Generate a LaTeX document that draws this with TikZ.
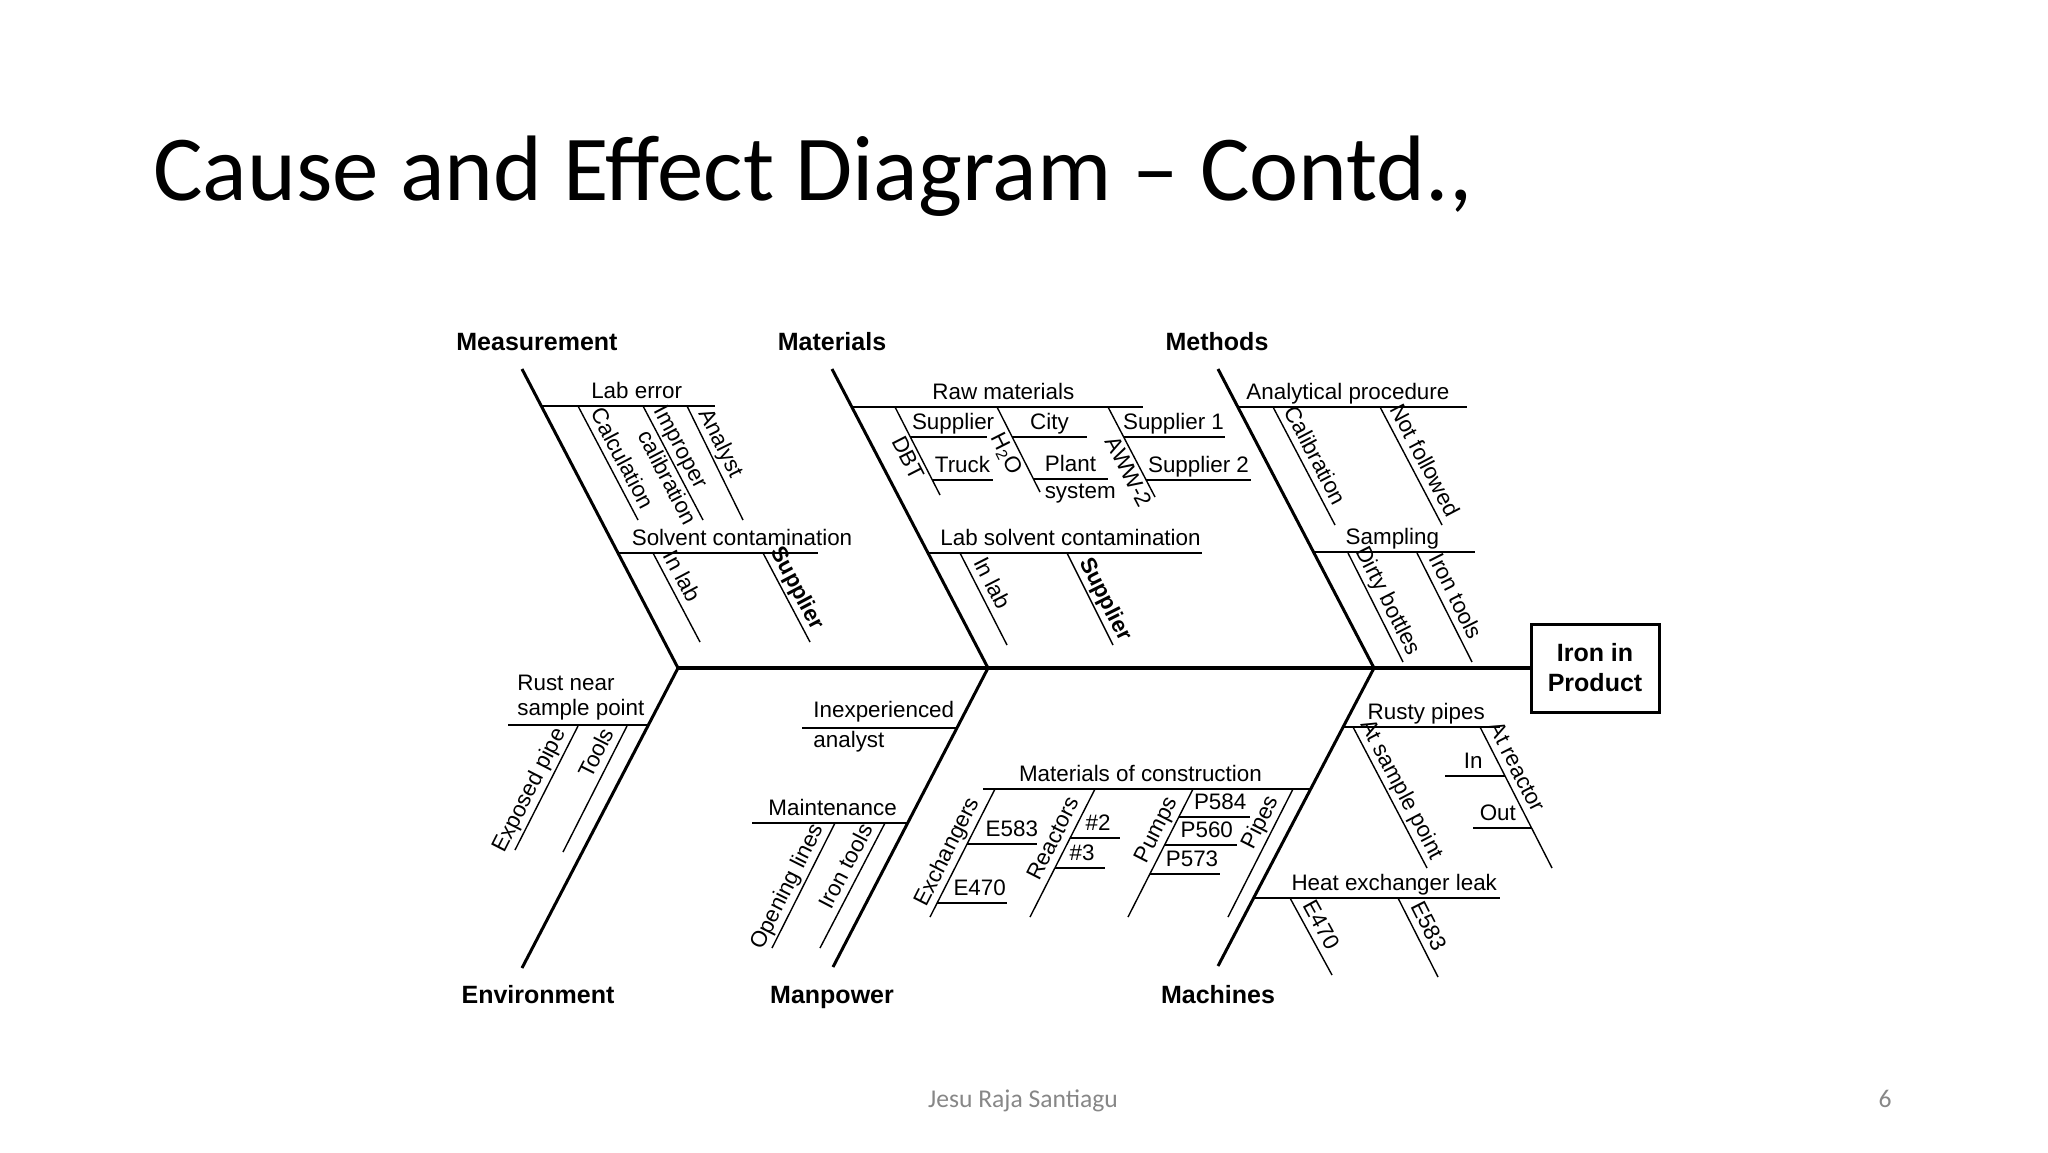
\documentclass[tikz,border=0pt]{standalone}
\usepackage{fontspec}
\setmainfont{Liberation Sans}
\newfontfamily\titlefont{Carlito}
\begin{document}
\begin{tikzpicture}[x=0.5pt,y=-0.5pt,
  spine/.style={line width=2pt},
  bone/.style={line width=1.5pt},
  branch/.style={line width=1pt},
  twig/.style={line width=0.7pt},
  lbl/.style={font=\fontsize{11.2}{13}\selectfont, inner sep=1.2pt, text height=8pt, text depth=2.2pt},
  lblb/.style={lbl, font=\bfseries\fontsize{11.2}{13}\selectfont},
  free/.style={font=\fontsize{11.2}{13}\selectfont, inner sep=0pt, anchor=base west},
  cat/.style={font=\bfseries\fontsize{12.5}{15}\selectfont, inner sep=0pt, anchor=base},
  effect/.style={draw, line width=1.5pt, font=\bfseries\fontsize{12.5}{15}\selectfont, align=center, minimum width=64pt, minimum height=44pt, inner sep=2pt},
]
\fill[white] (0,0) rectangle (2048,1152);
\useasboundingbox (0,0) rectangle (2048,1152);

% title and footer
\node[anchor=base west, inner sep=0pt, font=\titlefont\fontsize{46.5}{50}\selectfont] (title) at (153,200) {Cause and Effect Diagram – Contd.,};
\node[anchor=base, inner sep=0pt, text=black!47, font=\titlefont\fontsize{12.8}{15}\selectfont] (foot) at (1023,1107) {Jesu Raja Santiagu};
\node[anchor=base east, inner sep=0pt, text=black!47, font=\titlefont\fontsize{12.8}{15}\selectfont] (pnum) at (1892,1107) {6};

% skeleton
\coordinate (T1) at (522,369); \coordinate (J1) at (678,668); \coordinate (B1) at (522,968);
\coordinate (T2) at (832,369); \coordinate (J2) at (988,668); \coordinate (B2) at (833,967);
\coordinate (T3) at (1218,369); \coordinate (J3) at (1374,668); \coordinate (B3) at (1218,966);
\node[effect] (eff) at (1595,668) {Iron in\\Product};
\draw[spine] (J1) -- (eff.west);
\draw[bone] (T1) -- (J1) -- (B1);
\draw[bone] (T2) -- (J2) -- (B2);
\draw[bone] (T3) -- (J3) -- (B3);

\node[cat] (cMeas) at (537,350) {Measurement};
\node[cat] (cMat) at (832,350) {Materials};
\node[cat] (cMeth) at (1217,350) {Methods};
\node[cat] (cEnv) at (538,1003) {Environment};
\node[cat] (cMan) at (832,1003) {Manpower};
\node[cat] (cMach) at (1218,1003) {Machines};

% ---------- Measurement
\coordinate (le1) at (541,406); \coordinate (le2) at (715,406);
\draw[branch] (le1) -- node[lbl,above,pos=.55] (lel) {Lab error} (le2);
\coordinate (ca1) at (578,406); \coordinate (ca2) at (638,520);
\draw[twig] (ca1) -- node[lbl,sloped,above,pos=.52] (cal) {Calculation} (ca2);
\coordinate (ic1) at (643,406); \coordinate (ic2) at (703,520);
\draw[twig] (ic1) -- node[lbl,sloped,above,pos=.42] (icl1) {Improper} node[lbl,sloped,below,pos=.58] (icl2) {calibration} (ic2);
\coordinate (an1) at (687,406); \coordinate (an2) at (743,520);
\draw[twig] (an1) -- node[lbl,sloped,above,pos=.38] (anl) {Analyst} (an2);
\coordinate (sc1) at (618,553); \coordinate (sc2) at (818,553);
\draw[branch] (sc1) -- node[lbl,above,pos=.62] (scl) {Solvent contamination} (sc2);
\coordinate (il1) at (653,553); \coordinate (il2) at (700,642);
\draw[twig] (il1) -- node[lbl,sloped,above,pos=.34] (ill) {In lab} (il2);
\coordinate (su1) at (763,553); \coordinate (su2) at (810,642);
\draw[twig] (su1) -- node[lblb,sloped,above,pos=.47] (sul) {Supplier} (su2);

% ---------- Materials
\coordinate (rm1) at (852,407); \coordinate (rm2) at (1143,407);
\draw[branch] (rm1) -- node[lbl,above,pos=.52] (rml) {Raw materials} (rm2);
\coordinate (db1) at (895,407); \coordinate (db2) at (940,495);
\draw[twig] (db1) -- node[lbl,sloped,below,pos=.52] (dbl) {DBT} (db2);
\coordinate (sp1) at (910,437); \coordinate (sp2) at (987,437);
\draw[twig] (sp1) -- node[lbl,above,pos=.56] (spl) {Supplier} (sp2);
\coordinate (tr1) at (932,480); \coordinate (tr2) at (993,480);
\draw[twig] (tr1) -- node[lbl,above,pos=.5] (trl) {Truck} (tr2);
\coordinate (h1) at (997,407); \coordinate (h2) at (1040,492);
\draw[twig] (h1) -- node[lbl,sloped,below,pos=.48] (hl) {H\textsubscript{2}O} (h2);
\coordinate (ci1) at (1012,437); \coordinate (ci2) at (1087,437);
\draw[twig] (ci1) -- node[lbl,above,pos=.5] (cil) {City} (ci2);
\coordinate (pl1) at (1033,479); \coordinate (pl2) at (1108,479);
\draw[twig] (pl1) -- node[lbl,above,pos=.5] (pll) {Plant} node[lbl,below,pos=.63] (plsl) {system} (pl2);
\coordinate (aw1) at (1108,407); \coordinate (aw2) at (1155,497);
\draw[twig] (aw1) -- node[lbl,sloped,below,pos=.66] (awl) {AWW-2} (aw2);
\coordinate (s11) at (1124,437); \coordinate (s12) at (1225,437);
\draw[twig] (s11) -- node[lbl,above,pos=.49] (s1l) {Supplier 1} (s12);
\coordinate (s21) at (1146,480); \coordinate (s22) at (1251,480);
\draw[twig] (s21) -- node[lbl,above,pos=.5] (s2l) {Supplier 2} (s22);
\coordinate (ls1) at (928,553); \coordinate (ls2) at (1202,553);
\draw[branch] (ls1) -- node[lbl,above,pos=.52] (lsl) {Lab solvent contamination} (ls2);
\coordinate (il3) at (960,553); \coordinate (il4) at (1007,645);
\draw[twig] (il3) -- node[lbl,sloped,above,pos=.4] (il3l) {In lab} (il4);
\coordinate (su3) at (1067,553); \coordinate (su4) at (1113,645);
\draw[twig] (su3) -- node[lblb,sloped,above,pos=.57] (su3l) {Supplier} (su4);

% ---------- Methods
\coordinate (ap1) at (1238,407); \coordinate (ap2) at (1467,407);
\draw[branch] (ap1) -- node[lbl,above,pos=.48] (apl) {Analytical procedure} (ap2);
\coordinate (cb1) at (1273,407); \coordinate (cb2) at (1335,525);
\draw[twig] (cb1) -- node[lbl,sloped,above,pos=.47] (cbl) {Calibration} (cb2);
\coordinate (nf1) at (1380,407); \coordinate (nf2) at (1442,525);
\draw[twig] (nf1) -- node[lbl,sloped,above,pos=.51] (nfl) {Not followed} (nf2);
\coordinate (sa1) at (1313,552); \coordinate (sa2) at (1475,552);
\draw[branch] (sa1) -- node[lbl,above,pos=.49] (sal) {Sampling} (sa2);
\coordinate (dt1) at (1348,553); \coordinate (dt2) at (1403,662);
\draw[twig] (dt1) -- node[lbl,sloped,above,pos=.5] (dtl) {Dirty bottles} (dt2);
\coordinate (it1) at (1417,553); \coordinate (it2) at (1472,662);
\draw[twig] (it1) -- node[lbl,sloped,above,pos=.46] (itl) {Iron tools} (it2);

% ---------- Environment
\coordinate (rn1) at (508,725); \coordinate (rn2) at (648,725);
\draw[branch] (rn1) -- (rn2);
\node[free] (rnl1) at (517,690) {Rust near};
\node[free] (rnl2) at (517,715) {sample point};
\coordinate (ep1) at (515,850); \coordinate (ep2) at (578,726);
\draw[twig] (ep1) -- node[lbl,sloped,above,pos=.43] (epl) {Exposed pipe} (ep2);
\coordinate (to1) at (563,852); \coordinate (to2) at (627,726);
\draw[twig] (to1) -- node[lbl,sloped,above,pos=.73] (tol) {Tools} (to2);

% ---------- Manpower
\coordinate (ia1) at (802,728); \coordinate (ia2) at (957,728);
\draw[branch] (ia1) -- (ia2);
\node[free] (ial1) at (813,717) {Inexperienced};
\node[free] (ial2) at (813,747) {analyst};
\coordinate (mt1) at (752,823); \coordinate (mt2) at (907,823);
\draw[branch] (mt1) -- node[lbl,above,pos=.52] (mtl) {Maintenance} (mt2);
\coordinate (ol1) at (772,948); \coordinate (ol2) at (835,823);
\draw[twig] (ol1) -- node[lbl,sloped,above,pos=.44] (oll) {Opening lines} (ol2);
\coordinate (ir1) at (820,948); \coordinate (ir2) at (885,823);
\draw[twig] (ir1) -- node[lbl,sloped,above,pos=.6] (irl) {Iron tools} (ir2);

% ---------- Materials of construction
\coordinate (mc1) at (983,789); \coordinate (mc2) at (1311,789);
\draw[branch] (mc1) -- node[lbl,above,pos=.48] (mcl) {Materials of construction} (mc2);
\coordinate (ex1) at (930,917); \coordinate (ex2) at (995,789);
\draw[twig] (ex1) -- node[lbl,sloped,above,pos=.46] (exl) {Exchangers} (ex2);
\coordinate (e51) at (967,844); \coordinate (e52) at (1037,844);
\draw[twig] (e51) -- node[lbl,above,pos=.64] (e5l) {E583} (e52);
\coordinate (e41) at (937,903); \coordinate (e42) at (1007,903);
\draw[twig] (e41) -- node[lbl,above,pos=.61] (e4l) {E470} (e42);
\coordinate (re1) at (1030,917); \coordinate (re2) at (1095,789);
\draw[twig] (re1) -- node[lbl,sloped,above,pos=.56] (rel) {Reactors} (re2);
\coordinate (n21) at (1070,838); \coordinate (n22) at (1120,838);
\draw[twig] (n21) -- node[lbl,above,pos=.56] (n2l) {\#2} (n22);
\coordinate (n31) at (1055,868); \coordinate (n32) at (1105,868);
\draw[twig] (n31) -- node[lbl,above,pos=.54] (n3l) {\#3} (n32);
\coordinate (pu1) at (1128,917); \coordinate (pu2) at (1193,789);
\draw[twig] (pu1) -- node[lbl,sloped,above,pos=.63] (pul) {Pumps} (pu2);
\coordinate (p41) at (1179,817); \coordinate (p42) at (1250,817);
\draw[twig] (p41) -- node[lbl,above,pos=.58] (p4l) {P584} (p42);
\coordinate (p61) at (1165,845); \coordinate (p62) at (1237,845);
\draw[twig] (p61) -- node[lbl,above,pos=.58] (p6l) {P560} (p62);
\coordinate (p71) at (1150,874); \coordinate (p72) at (1220,874);
\draw[twig] (p71) -- node[lbl,above,pos=.6] (p7l) {P573} (p72);
\coordinate (pi1) at (1228,917); \coordinate (pi2) at (1293,789);
\draw[twig] (pi1) -- node[lbl,sloped,above,pos=.69] (pil) {Pipes} (pi2);

% ---------- Machines
\coordinate (rp1) at (1343,727); \coordinate (rp2) at (1500,727);
\draw[branch] (rp1) -- node[lbl,above,pos=.53] (rpl) {Rusty pipes} (rp2);
\coordinate (as1) at (1353,727); \coordinate (as2) at (1427,868);
\draw[twig] (as1) -- node[lbl,sloped,above,pos=.49] (asl) {At sample point} (as2);
\coordinate (ar1) at (1480,727); \coordinate (ar2) at (1552,868);
\draw[twig] (ar1) -- node[lbl,sloped,above,pos=.33] (arl) {At reactor} (ar2);
\coordinate (in1) at (1445,776); \coordinate (in2) at (1505,776);
\draw[twig] (in1) -- node[lbl,above,pos=.47] (inl) {In} (in2);
\coordinate (ou1) at (1473,828); \coordinate (ou2) at (1532,828);
\draw[twig] (ou1) -- node[lbl,above,pos=.42] (oul) {Out} (ou2);
\coordinate (hx1) at (1254,898); \coordinate (hx2) at (1500,898);
\draw[branch] (hx1) -- node[lbl,above,pos=.57] (hxl) {Heat exchanger leak} (hx2);
\coordinate (m41) at (1290,898); \coordinate (m42) at (1332,975);
\draw[twig] (m41) -- node[lbl,sloped,above,pos=.44] (m4l) {E470} (m42);
\coordinate (m51) at (1398,898); \coordinate (m52) at (1438,977);
\draw[twig] (m51) -- node[lbl,sloped,above,pos=.44] (m5l) {E583} (m52);
\end{tikzpicture}
\end{document}
